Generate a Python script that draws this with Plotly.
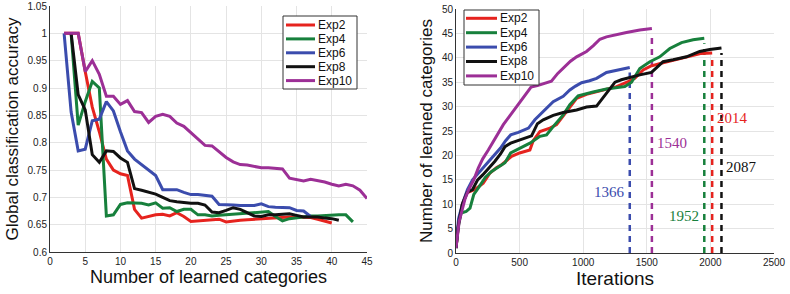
import plotly.graph_objects as go

# ---------------- data ----------------
names = ["Exp2", "Exp4", "Exp6", "Exp8", "Exp10"]
colors = ["#e6231e", "#17803c", "#3b4cad", "#111111", "#9c2f96"]

# Left: accuracy vs number of learned categories
acc_exp2_x = list(range(2, 41))
acc_exp2_y = [1.0, 1.0, 1.0, 0.93, 0.865, 0.82, 0.77, 0.75, 0.743, 0.74, 0.678, 0.662, 0.665, 0.668,
              0.669, 0.666, 0.672, 0.665, 0.656, 0.657, 0.658, 0.659, 0.66, 0.655, 0.657, 0.658,
              0.659, 0.66, 0.661, 0.662, 0.663, 0.664, 0.664, 0.664, 0.664, 0.663, 0.66, 0.657, 0.653]
acc_exp4_x = list(range(3, 44))
acc_exp4_y = [1.0, 0.832, 0.875, 0.912, 0.9, 0.666, 0.668, 0.687, 0.69, 0.69, 0.689, 0.686, 0.69,
              0.68, 0.681, 0.674, 0.678, 0.678, 0.668, 0.668, 0.666, 0.667, 0.668, 0.669, 0.67,
              0.671, 0.672, 0.673, 0.674, 0.665, 0.657, 0.661, 0.663, 0.665, 0.666, 0.666, 0.667,
              0.667, 0.668, 0.668, 0.655]
acc_exp6_x = list(range(2, 38))
acc_exp6_y = [1.0, 0.856, 0.785, 0.788, 0.84, 0.843, 0.875, 0.858, 0.82, 0.785, 0.77, 0.76, 0.75,
              0.74, 0.714, 0.714, 0.714, 0.709, 0.705, 0.705, 0.704, 0.702, 0.687, 0.687, 0.686,
              0.685, 0.685, 0.685, 0.688, 0.683, 0.682, 0.682, 0.681, 0.676, 0.675, 0.665]
acc_exp8_x = list(range(3, 42))
acc_exp8_y = [1.0, 0.888, 0.86, 0.778, 0.764, 0.785, 0.784, 0.772, 0.764, 0.716, 0.713, 0.71, 0.706,
              0.7, 0.694, 0.692, 0.69, 0.689, 0.689, 0.686, 0.673, 0.672, 0.676, 0.681, 0.678,
              0.672, 0.666, 0.665, 0.668, 0.668, 0.669, 0.67, 0.667, 0.664, 0.664, 0.664, 0.662,
              0.661, 0.658]
acc_exp10_x = list(range(2, 46))
acc_exp10_y = [1.0, 1.0, 1.0, 0.93, 0.95, 0.925, 0.885, 0.885, 0.87, 0.877, 0.857, 0.855, 0.837,
               0.848, 0.852, 0.848, 0.836, 0.83, 0.818, 0.806, 0.795, 0.794, 0.783, 0.773, 0.765,
               0.76, 0.759, 0.757, 0.754, 0.754, 0.753, 0.752, 0.735, 0.733, 0.73, 0.733, 0.731,
               0.728, 0.724, 0.721, 0.724, 0.721, 0.713, 0.698]

# Right: learned categories vs iterations
it_exp2 = [0, 20, 50, 84, 149, 214, 267, 320, 359, 437, 500, 581, 607, 660, 738, 791, 869, 948,
           1026, 1157, 1262, 1353, 1406, 1471, 1530, 1628, 1812, 1930, 2014]
cat_exp2 = [1, 6, 10, 12.3, 13, 14.3, 16.4, 17.5, 18.1, 19.8, 20.5, 21.1, 23, 24.9, 25.6, 26.3, 29,
            31.7, 32.5, 33.4, 34.1, 35.1, 35.8, 37.5, 38.3, 39, 40.2, 40.9, 41]
it_exp4 = [0, 15, 40, 80, 110, 140, 180, 230, 280, 330, 385, 430, 500, 581, 660, 712, 764, 843, 895,
           960, 1078, 1183, 1327, 1380, 1445, 1524, 1602, 1681, 1773, 1864, 1952]
cat_exp4 = [1, 5, 8.2, 8.5, 9.2, 12, 13.5, 15.5, 16.7, 17.5, 18.5, 20.5, 21.5, 22.5, 23.9, 24.2,
            25.9, 28.3, 30.4, 32.2, 33, 33.6, 34.1, 35, 37.8, 39.2, 40.2, 41.9, 43.1, 43.7, 44]
it_exp6 = [0, 20, 50, 90, 130, 180, 230, 270, 310, 350, 390, 430, 490, 530, 570, 620, 660, 712, 764,
           843, 895, 940, 987, 1050, 1105, 1183, 1262, 1366]
cat_exp6 = [1, 7, 10, 13, 15, 16.5, 18, 19.2, 20.5, 21.5, 23, 24.2, 24.7, 25.2, 25.6, 27.3, 28.3,
            29.5, 31, 32.1, 33.4, 34.2, 34.9, 35.3, 35.8, 37, 37.4, 38]
it_exp8 = [0, 20, 50, 90, 130, 170, 210, 254, 306, 350, 385, 430, 500, 594, 640, 686, 764, 843, 948,
           1026, 1105, 1183, 1250, 1300, 1367, 1445, 1537, 1628, 1707, 1812, 1916, 1995, 2087]
cat_exp8 = [1, 6, 10, 12.5, 13, 15, 16, 17.2, 18.8, 20.3, 21.8, 22.5, 23.2, 24, 26.5, 27.3, 28.2,
            28.8, 29.3, 29.9, 30.1, 32.7, 35, 35.5, 36, 36.5, 37, 39.2, 39.6, 40.2, 41.3, 41.7, 42]
it_exp10 = [0, 10, 25, 45, 70, 100, 140, 175, 210, 254, 290, 332, 372, 420, 477, 530, 590, 640, 700,
            750, 800, 856, 900, 948, 1000, 1026, 1080, 1131, 1183, 1250, 1340, 1445, 1540]
cat_exp10 = [1, 3.5, 6.5, 8.5, 11, 13, 15, 17.4, 19.3, 21.1, 22.7, 24.5, 26.3, 28, 30, 32, 34, 34.3,
             34.8, 35.2, 36.8, 38.2, 39.3, 40.2, 41, 41.3, 42.5, 43.8, 44.3, 44.7, 45.2, 45.7, 46]

# final iterations (dashed markers) and labels, in legend order
end_iters = [2014, 1952, 1366, 2087, 1540]
end_tops = [40.3, 43.0, 37.0, 41.0, 44.6]

left_x_ticks = [0, 5, 10, 15, 20, 25, 30, 35, 40, 45]
left_y_ticks = [0.6, 0.65, 0.7, 0.75, 0.8, 0.85, 0.9, 0.95, 1.0, 1.05]
left_y_text = ["0.6", "0.65", "0.7", "0.75", "0.8", "0.85", "0.9", "0.95", "1", "1.05"]
right_x_ticks = [0, 500, 1000, 1500, 2000, 2500]
right_y_ticks = [0, 5, 10, 15, 20, 25, 30, 35, 40, 45, 50]

acc_x = [acc_exp2_x, acc_exp4_x, acc_exp6_x, acc_exp8_x, acc_exp10_x]
acc_y = [acc_exp2_y, acc_exp4_y, acc_exp6_y, acc_exp8_y, acc_exp10_y]
it_x = [it_exp2, it_exp4, it_exp6, it_exp8, it_exp10]
cat_y = [cat_exp2, cat_exp4, cat_exp6, cat_exp8, cat_exp10]

# ---------------- figure ----------------
W, H = 790, 294
fig = go.Figure()
SANS = "Liberation Sans, Arial, sans-serif"
SERIF = "Liberation Serif, Times New Roman, serif"

for i, n in enumerate(names):
    fig.add_trace(go.Scatter(x=acc_x[i], y=acc_y[i], mode="lines", name=n,
                             line=dict(color=colors[i], width=3),
                             xaxis="x", yaxis="y", showlegend=False))
for i, n in enumerate(names):
    fig.add_trace(go.Scatter(x=[end_iters[i], end_iters[i]], y=[0, end_tops[i]], mode="lines",
                             line=dict(color=colors[i], width=2.5, dash="6px,5px"),
                             xaxis="x2", yaxis="y2", showlegend=False, hoverinfo="skip"))
for i, n in enumerate(names):
    fig.add_trace(go.Scatter(x=it_x[i], y=cat_y[i], mode="lines", name=n,
                             line=dict(color=colors[i], width=3),
                             xaxis="x2", yaxis="y2", showlegend=False))

# end-iteration labels
label_y = [27.6, 7.6, 12.6, 17.7, 22.5]
label_side = ["left", "right", "right", "left", "left"]
for i in range(5):
    fig.add_annotation(x=end_iters[i], y=label_y[i], xref="x2", yref="y2",
                       text=str(end_iters[i]), showarrow=False,
                       xanchor=label_side[i], yanchor="middle",
                       xshift=3 if label_side[i] == "left" else -3,
                       font=dict(family=SERIF, size=15, color=colors[i]))

# legend boxes (pixel layout: box, sample-line start/end, text x, first row y, row step)
def add_legend(box, x0, x1, tx, y0, step):
    fig.add_shape(type="rect", xref="paper", yref="paper",
                  x0=box[0] / W, x1=box[1] / W, y0=1 - box[3] / H, y1=1 - box[2] / H,
                  line=dict(color="#333", width=1), fillcolor="white", layer="above")
    for i, n in enumerate(names):
        yy = 1 - (y0 + i * step) / H
        fig.add_shape(type="line", xref="paper", yref="paper", x0=x0 / W, x1=x1 / W, y0=yy, y1=yy,
                      line=dict(color=colors[i], width=3), layer="above")
        fig.add_annotation(x=tx / W, y=yy, xref="paper", yref="paper", text=n, showarrow=False,
                           xanchor="left", yanchor="middle",
                           font=dict(family=SANS, size=12, color="#111"))

add_legend((283, 357, 16, 89), 286, 315, 316, 25, 13.9)
add_legend((464, 539, 10, 85), 466, 497, 498, 18.3, 14.4)

grid = "#e4e4e4"
axis_common = dict(showgrid=True, gridcolor=grid, gridwidth=1, zeroline=False, automargin=False,
                   showline=True, linecolor="#333333", linewidth=1, ticks="",
                   tickfont=dict(family=SANS, size=10, color="#222"))

fig.update_layout(
    width=W, height=H, margin=dict(l=0, r=0, t=0, b=0),
    paper_bgcolor="white", plot_bgcolor="white", showlegend=False,
    xaxis=dict(domain=[50 / W, 367 / W], range=[0, 45], tickvals=left_x_ticks,
               title=dict(text="Number of learned categories", font=dict(family=SANS, size=18, color="#111"), standoff=4),
               anchor="y", **axis_common),
    yaxis=dict(domain=[1 - 252 / H, 1 - 6 / H], range=[0.6, 1.05], tickvals=left_y_ticks, ticktext=left_y_text,
               title=dict(text="Global classification accuracy", font=dict(family=SANS, size=17, color="#111"), standoff=4),
               anchor="x", **axis_common),
    xaxis2=dict(domain=[456 / W, 774 / W], range=[0, 2500], tickvals=right_x_ticks,
                title=dict(text="Iterations", font=dict(family=SANS, size=19, color="#111"), standoff=3),
                anchor="y2", **axis_common),
    yaxis2=dict(domain=[1 - 253 / H, 1 - 9 / H], range=[0, 50], tickvals=right_y_ticks,
                title=dict(text="Number of learned categories", font=dict(family=SANS, size=17, color="#111"), standoff=4),
                anchor="x2", **axis_common),
)

fig.write_html("out.html", config={"displayModeBar": False},
               post_script="document.body.style.margin='0';document.body.style.overflow='hidden';")
